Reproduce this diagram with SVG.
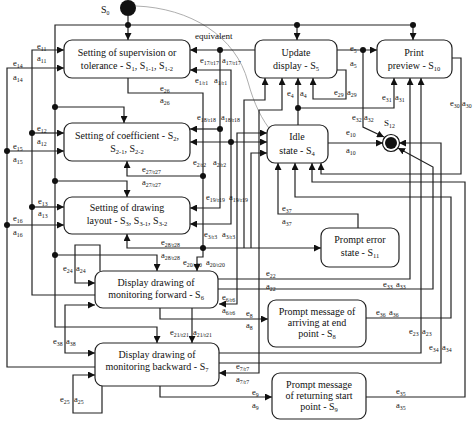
<svg xmlns="http://www.w3.org/2000/svg" width="474" height="424" viewBox="0 0 474 424">
<defs>
<marker id="ah" viewBox="0 0 10 10" refX="10" refY="5" markerWidth="7" markerHeight="7" markerUnits="userSpaceOnUse" orient="auto-start-reverse"><path d="M0,0 L10,5 L0,10 z" fill="#111"/></marker>
<style>
.b{fill:#fff;stroke:#222;stroke-width:1.2}
.t{font-family:"Liberation Serif",serif;font-size:10px;fill:#111;text-anchor:middle}
.bs{font-size:6.5px}
.c{fill:none;stroke:#222;stroke-width:1.2}
.a{marker-end:url(#ah)}
.a2{marker-start:url(#ah);marker-end:url(#ah)}
.d{fill:#111}
.l{font-family:"Liberation Serif",serif;font-size:8.5px;fill:#111}
.s{font-size:5.8px}
</style>
</defs>
<rect width="474" height="424" fill="#fff"/>

<g id="connectors">
<path d="M136,6 C190,8 236,36 248,82 C254,104 262,120 272,132" fill="none" stroke="#999" stroke-width="0.8"/>
<path class="c a" d="M128,16 V40"/>
<path class="c a" d="M413,25 H55 V327 H157 V343"/>
<path class="c a" d="M297,25 V40"/>
<path class="c a" d="M413,25 V40"/>
<path class="c a" d="M55,107 H124 V123"/>
<path class="c a" d="M55,181 H127 V197"/>
<path class="c a" d="M55,255 H157 V271"/>
<path class="c a" d="M95,367 H7 V68 H64"/>
<path class="c a" d="M7,151 H64"/>
<path class="c a" d="M7,225 H64"/>
<path class="c a" d="M95,295 H32 V50 H64"/>
<path class="c a" d="M32,133 H64"/>
<path class="c a" d="M32,207 H64"/>
<path class="c a" d="M100,271 V245 H75 V283 H95"/>
<path class="c a2" d="M95,305 H65 V353 H95"/>
<path class="c a" d="M102,386 V413 H73 V375 H95"/>
<path class="c" d="M128,78 V93 H203 V248"/>
<path class="c a" d="M203,176 H127 V161"/>
<path class="c a2" d="M127,234 V248 H321"/>
<path class="c a" d="M203,248 V257 H197 V271"/>
<path class="c a" d="M251,248 V153 H267"/>
<path class="c a" d="M255,50 H190"/>
<path class="c a" d="M220,50 V208 H190"/>
<path class="c a" d="M220,129 H190"/>
<path class="c a2" d="M267,142 H190"/>
<path class="c a" d="M231,142 V70 H190"/>
<path class="c a" d="M231,142 V224 H190"/>
<path class="c a2" d="M267,133 H237 V304 H219"/>
<path class="c a" d="M244,248 V100 H265 V78"/>
<path class="c a2" d="M282,78 V110 H259 V373 H219"/>
<path class="c a" d="M298,125 V78"/>
<path class="c a" d="M298,108 H394 V78"/>
<path class="c a" d="M337,50 H377"/>
<path class="c a" d="M363,50 V127 L384,137"/>
<path class="c a" d="M337,70 H346 V99 H313 V78"/>
<path class="c a" d="M452,58 H461 V174 H321 V163"/>
<path class="c a" d="M328,143 H383"/>
<path class="c a" d="M358,228 V214 H278 V163"/>
<path class="c a" d="M366,318 H451 V197 H295 V163"/>
<path class="c a" d="M366,397 H465 V182 H312 V163"/>
<path class="c a" d="M218,279 H410 V78"/>
<path class="c a" d="M218,289 H433 V167 L398,148"/>
<path class="c a" d="M219,353 H421 V78"/>
<path class="c a" d="M219,363 H441 V143 H399"/>
<path class="c a" d="M160,308 V319 H268"/>
<path class="c a" d="M160,386 V397 H272"/>
<path class="c a" d="M192,308 V343"/>
<circle class="d" cx="128" cy="25" r="3"/>
<circle class="d" cx="297" cy="25" r="3"/>
<circle class="d" cx="413" cy="25" r="3"/>
<circle class="d" cx="55" cy="107" r="3"/>
<circle class="d" cx="55" cy="181" r="3"/>
<circle class="d" cx="55" cy="255" r="3"/>
<circle class="d" cx="7" cy="151" r="3"/>
<circle class="d" cx="7" cy="225" r="3"/>
<circle class="d" cx="32" cy="133" r="3"/>
<circle class="d" cx="32" cy="207" r="3"/>
<circle class="d" cx="203" cy="176" r="3"/>
<circle class="d" cx="203" cy="248" r="3"/>
<circle class="d" cx="220" cy="50" r="3"/>
<circle class="d" cx="220" cy="129" r="3"/>
<circle class="d" cx="231" cy="142" r="3"/>
<circle class="d" cx="298" cy="108" r="3"/>
<circle class="d" cx="363" cy="50" r="3"/>
<circle class="d" cx="274" cy="133" r="2"/>
</g>

<g id="labels">
<text class="l" x="195" y="39" style="font-size:9px">equivalent</text>
<text class="l" x="101" y="13" style="font-size:10px">S<tspan class="s" dy="2">0</tspan></text>
<text class="l" x="384" y="126" style="font-size:9px">S<tspan class="s" dy="2">12</tspan></text>
<text class="l" x="37" y="49">e<tspan class="s" dy="2">11</tspan></text>
<text class="l" x="37" y="61">a<tspan class="s" dy="2">11</tspan></text>
<text class="l" x="13" y="66">e<tspan class="s" dy="2">14</tspan></text>
<text class="l" x="13" y="80">a<tspan class="s" dy="2">14</tspan></text>
<text class="l" x="37" y="131">e<tspan class="s" dy="2">12</tspan></text>
<text class="l" x="37" y="144">a<tspan class="s" dy="2">12</tspan></text>
<text class="l" x="13" y="149">e<tspan class="s" dy="2">15</tspan></text>
<text class="l" x="13" y="162">a<tspan class="s" dy="2">15</tspan></text>
<text class="l" x="38" y="204">e<tspan class="s" dy="2">13</tspan></text>
<text class="l" x="38" y="216">a<tspan class="s" dy="2">13</tspan></text>
<text class="l" x="13" y="221">e<tspan class="s" dy="2">16</tspan></text>
<text class="l" x="13" y="235">a<tspan class="s" dy="2">16</tspan></text>
<text class="l" x="63" y="271">e<tspan class="s" dy="2">24</tspan></text>
<text class="l" x="76" y="271">a<tspan class="s" dy="2">24</tspan></text>
<text class="l" x="53" y="344">e<tspan class="s" dy="2">38</tspan></text>
<text class="l" x="66" y="344">a<tspan class="s" dy="2">38</tspan></text>
<text class="l" x="60" y="402">e<tspan class="s" dy="2">25</tspan></text>
<text class="l" x="74" y="402">a<tspan class="s" dy="2">25</tspan></text>
<text class="l" x="160" y="91">e<tspan class="s" dy="2">26</tspan></text>
<text class="l" x="160" y="103">a<tspan class="s" dy="2">26</tspan></text>
<text class="l" x="200" y="63">e<tspan class="s" dy="2">17/r17</tspan></text>
<text class="l" x="222" y="63">a<tspan class="s" dy="2">17/r17</tspan></text>
<text class="l" x="195" y="83">e<tspan class="s" dy="2">1/r1</tspan></text>
<text class="l" x="214" y="83">a<tspan class="s" dy="2">1/r1</tspan></text>
<text class="l" x="197" y="120">e<tspan class="s" dy="2">18/r18</tspan></text>
<text class="l" x="221" y="120">a<tspan class="s" dy="2">18/r18</tspan></text>
<text class="l" x="193" y="165">e<tspan class="s" dy="2">2/r2</tspan></text>
<text class="l" x="213" y="165">a<tspan class="s" dy="2">2/r2</tspan></text>
<text class="l" x="142" y="172">e<tspan class="s" dy="2">27/r27</tspan></text>
<text class="l" x="142" y="185">a<tspan class="s" dy="2">27/r27</tspan></text>
<text class="l" x="206" y="200">e<tspan class="s" dy="2">19/r19</tspan></text>
<text class="l" x="229" y="200">a<tspan class="s" dy="2">19/r19</tspan></text>
<text class="l" x="204" y="237">e<tspan class="s" dy="2">3/r3</tspan></text>
<text class="l" x="222" y="237">a<tspan class="s" dy="2">3/r3</tspan></text>
<text class="l" x="161" y="245">e<tspan class="s" dy="2">28/r28</tspan></text>
<text class="l" x="161" y="258">a<tspan class="s" dy="2">28/r28</tspan></text>
<text class="l" x="183" y="265">e<tspan class="s" dy="2">20/r20</tspan></text>
<text class="l" x="206" y="265">a<tspan class="s" dy="2">20/r20</tspan></text>
<text class="l" x="170" y="335">e<tspan class="s" dy="2">21/r21</tspan></text>
<text class="l" x="193" y="335">a<tspan class="s" dy="2">21/r21</tspan></text>
<text class="l" x="222" y="300">e<tspan class="s" dy="2">6/r6</tspan></text>
<text class="l" x="222" y="313">a<tspan class="s" dy="2">6/r6</tspan></text>
<text class="l" x="236" y="369">e<tspan class="s" dy="2">7/r7</tspan></text>
<text class="l" x="236" y="382">a<tspan class="s" dy="2">7/r7</tspan></text>
<text class="l" x="246" y="316">e<tspan class="s" dy="2">8</tspan></text>
<text class="l" x="246" y="328">a<tspan class="s" dy="2">8</tspan></text>
<text class="l" x="252" y="395">e<tspan class="s" dy="2">9</tspan></text>
<text class="l" x="252" y="408">a<tspan class="s" dy="2">9</tspan></text>
<text class="l" x="266" y="276">e<tspan class="s" dy="2">22</tspan></text>
<text class="l" x="266" y="289">a<tspan class="s" dy="2">22</tspan></text>
<text class="l" x="383" y="287">e<tspan class="s" dy="2">33</tspan></text>
<text class="l" x="396" y="287">a<tspan class="s" dy="2">33</tspan></text>
<text class="l" x="376" y="315">e<tspan class="s" dy="2">36</tspan></text>
<text class="l" x="389" y="315">a<tspan class="s" dy="2">36</tspan></text>
<text class="l" x="409" y="334">e<tspan class="s" dy="2">23</tspan></text>
<text class="l" x="422" y="334">a<tspan class="s" dy="2">23</tspan></text>
<text class="l" x="429" y="350">e<tspan class="s" dy="2">34</tspan></text>
<text class="l" x="442" y="350">a<tspan class="s" dy="2">34</tspan></text>
<text class="l" x="396" y="394">e<tspan class="s" dy="2">35</tspan></text>
<text class="l" x="396" y="408">a<tspan class="s" dy="2">35</tspan></text>
<text class="l" x="282" y="211">e<tspan class="s" dy="2">37</tspan></text>
<text class="l" x="282" y="224">a<tspan class="s" dy="2">37</tspan></text>
<text class="l" x="287" y="96">e<tspan class="s" dy="2">4</tspan></text>
<text class="l" x="300" y="96">a<tspan class="s" dy="2">4</tspan></text>
<text class="l" x="350" y="51">e<tspan class="s" dy="2">5</tspan></text>
<text class="l" x="350" y="66">a<tspan class="s" dy="2">5</tspan></text>
<text class="l" x="334" y="95">e<tspan class="s" dy="2">29</tspan></text>
<text class="l" x="347" y="95">a<tspan class="s" dy="2">29</tspan></text>
<text class="l" x="382" y="100">e<tspan class="s" dy="2">31</tspan></text>
<text class="l" x="395" y="100">a<tspan class="s" dy="2">31</tspan></text>
<text class="l" x="352" y="120">e<tspan class="s" dy="2">32</tspan></text>
<text class="l" x="364" y="120">a<tspan class="s" dy="2">32</tspan></text>
<text class="l" x="450" y="106">e<tspan class="s" dy="2">30</tspan></text>
<text class="l" x="462" y="106">a<tspan class="s" dy="2">30</tspan></text>
<text class="l" x="346" y="135">e<tspan class="s" dy="2">10</tspan></text>
<text class="l" x="346" y="153">a<tspan class="s" dy="2">10</tspan></text>
</g>

<g id="S0"><circle cx="128" cy="8" r="8" fill="#111"/></g>
<g id="S12"><circle cx="391" cy="143" r="8.5" fill="#fff" stroke="#111" stroke-width="1.2"/><circle cx="391" cy="143" r="6" fill="#111"/></g>

<g id="S1"><rect class="b" x="64" y="40" width="126" height="38" rx="8"/>
<text class="t" x="127" y="56">Setting of supervision or</text>
<text class="t" x="127" y="69">tolerance - S<tspan class="bs" dy="2">1</tspan><tspan dy="-2">, S</tspan><tspan class="bs" dy="2">1-1</tspan><tspan dy="-2">, S</tspan><tspan class="bs" dy="2">1-2</tspan></text></g>

<g id="S5"><rect class="b" x="255" y="40" width="82" height="38" rx="8"/>
<text class="t" x="296" y="56">Update</text>
<text class="t" x="296" y="69">display - S<tspan class="bs" dy="2">5</tspan></text></g>

<g id="S10"><rect class="b" x="377" y="40" width="75" height="38" rx="8"/>
<text class="t" x="414" y="56">Print</text>
<text class="t" x="414" y="69">preview - S<tspan class="bs" dy="2">10</tspan></text></g>

<g id="S2"><rect class="b" x="64" y="123" width="126" height="38" rx="8"/>
<text class="t" x="127" y="139">Setting of coefficient - S<tspan class="bs" dy="2">2</tspan><tspan dy="-2">,</tspan></text>
<text class="t" x="127" y="152">S<tspan class="bs" dy="2">2-1</tspan><tspan dy="-2">, S</tspan><tspan class="bs" dy="2">2-2</tspan></text></g>

<g id="S4"><rect class="b" x="267" y="125" width="61" height="38" rx="8"/>
<text class="t" x="297" y="140">Idle</text>
<text class="t" x="297" y="154">state - S<tspan class="bs" dy="2">4</tspan></text></g>

<g id="S3"><rect class="b" x="64" y="197" width="126" height="37" rx="8"/>
<text class="t" x="127" y="211">Setting of drawing</text>
<text class="t" x="127" y="224">layout - S<tspan class="bs" dy="2">3</tspan><tspan dy="-2">, S</tspan><tspan class="bs" dy="2">3-1</tspan><tspan dy="-2">, S</tspan><tspan class="bs" dy="2">3-2</tspan></text></g>

<g id="S11"><rect class="b" x="321" y="228" width="78" height="39" rx="8"/>
<text class="t" x="360" y="243">Prompt error</text>
<text class="t" x="360" y="256">state - S<tspan class="bs" dy="2">11</tspan></text></g>

<g id="S6"><rect class="b" x="95" y="271" width="123" height="37" rx="8"/>
<text class="t" x="156" y="286">Display drawing of</text>
<text class="t" x="156" y="298">monitoring forward - S<tspan class="bs" dy="2">6</tspan></text></g>

<g id="S8"><rect class="b" x="268" y="300" width="98" height="47" rx="8"/>
<text class="t" x="317" y="315">Prompt message of</text>
<text class="t" x="317" y="326">arriving at end</text>
<text class="t" x="317" y="337">point - S<tspan class="bs" dy="2">8</tspan></text></g>

<g id="S7"><rect class="b" x="95" y="343" width="124" height="43" rx="8"/>
<text class="t" x="157" y="358">Display drawing of</text>
<text class="t" x="157" y="370">monitoring backward - S<tspan class="bs" dy="2">7</tspan></text></g>

<g id="S9"><rect class="b" x="272" y="373" width="94" height="46" rx="8"/>
<text class="t" x="319" y="388">Prompt message</text>
<text class="t" x="319" y="399">of returning start</text>
<text class="t" x="319" y="410">point - S<tspan class="bs" dy="2">9</tspan></text></g>
</svg>
